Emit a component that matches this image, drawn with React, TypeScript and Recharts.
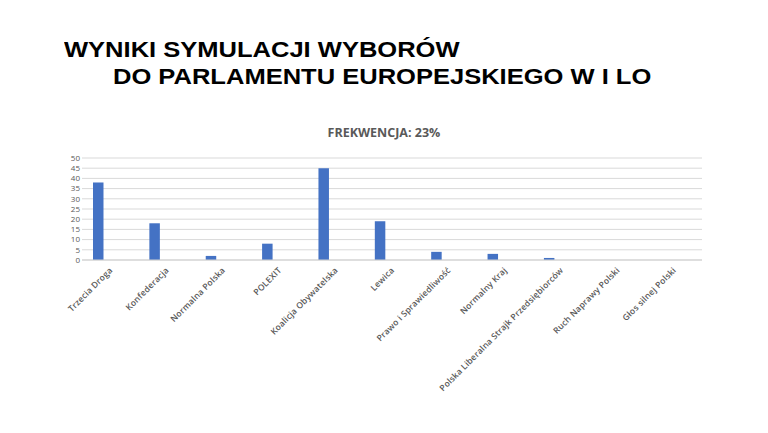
import React, { useEffect } from 'react';
import { BarChart, Bar, XAxis, YAxis, CartesianGrid } from 'recharts';

const parties = [
  'Trzecia Droga',
  'Konfederacja',
  'Normalna Polska',
  'POLEXIT',
  'Koalicja Obywatelska',
  'Lewica',
  'Prawo i Sprawiedliwość',
  'Normalny Kraj',
  'Polska Liberalna Strajk Przedsiębiorców',
  'Ruch Naprawy Polski',
  'Głos silnej Polski',
];

const votes = [38, 18, 2, 8, 45, 19, 4, 3, 1, 0, 0];

// the original sheet has an empty second series, which pushes the bars to the left of each category
const emptySeries: (number | null)[] = parties.map(() => null);

const yTicks = [0, 5, 10, 15, 20, 25, 30, 35, 40, 45, 50];

const data = parties.map((name, i) => ({ name, votes: votes[i], empty: emptySeries[i] }));

const PartyTick = (props: any) => {
  const { x, y, payload } = props;
  return (
    <g transform={`translate(${x},${y})`}>
      <text
        x={0}
        y={0}
        dy={4}
        textAnchor="end"
        transform="rotate(-45)"
        fontSize={8.5}
        fontWeight={600}
        letterSpacing={0.2}
        fontFamily="'Open Sans', sans-serif"
        fill="#595959"
      >
        {payload.value}
      </text>
    </g>
  );
};

const titleStyle: React.CSSProperties = {
  position: 'absolute',
  fontFamily: "'Liberation Sans', Arial, sans-serif",
  fontWeight: 700,
  fontSize: 22,
  lineHeight: '27px',
  color: '#000',
  whiteSpace: 'nowrap',
  transform: 'scaleX(1.16)',
  transformOrigin: 'left top',
};

export default function App() {
  useEffect(() => {
    document.body.style.margin = '0';
  }, []);

  return (
    <div style={{ position: 'relative', width: 768, height: 433, background: '#fff', overflow: 'hidden' }}>
      <div style={{ ...titleStyle, left: 64, top: 36 }}>WYNIKI SYMULACJI WYBORÓW</div>
      <div style={{ ...titleStyle, left: 113, top: 63 }}>DO PARLAMENTU EUROPEJSKIEGO W I LO</div>
      <div
        style={{
          position: 'absolute',
          left: 0,
          width: 768,
          top: 124,
          textAlign: 'center',
          fontFamily: "'Open Sans', sans-serif",
          fontWeight: 700,
          fontSize: 12.5,
          color: '#595959',
        }}
      >
        FREKWENCJA: 23%
      </div>
      <div style={{ position: 'absolute', left: 0, top: 0 }}>
        <BarChart
          width={768}
          height={433}
          data={data}
          margin={{ top: 158, right: 66, bottom: 53, left: 60 }}
          barGap={14}
        >
          <CartesianGrid vertical={false} stroke="#d9d9d9" />
          <XAxis
            dataKey="name"
            interval={0}
            height={120}
            tick={<PartyTick />}
            tickLine={false}
            axisLine={{ stroke: '#d0d0d0' }}
            tickMargin={2}
          />
          <YAxis
            domain={[0, 50]}
            ticks={yTicks}
            interval={0}
            width={22}
            axisLine={false}
            tickLine={false}
            tickSize={0}
            tickMargin={2}
            tick={{ fontSize: 8, fill: '#595959', fontFamily: "'Open Sans', sans-serif" }}
          />
          <Bar dataKey="votes" fill="#4472C4" barSize={10.5} isAnimationActive={false} />
          <Bar dataKey="empty" fill="#ED7D31" barSize={10.5} isAnimationActive={false} />
        </BarChart>
      </div>
    </div>
  );
}
